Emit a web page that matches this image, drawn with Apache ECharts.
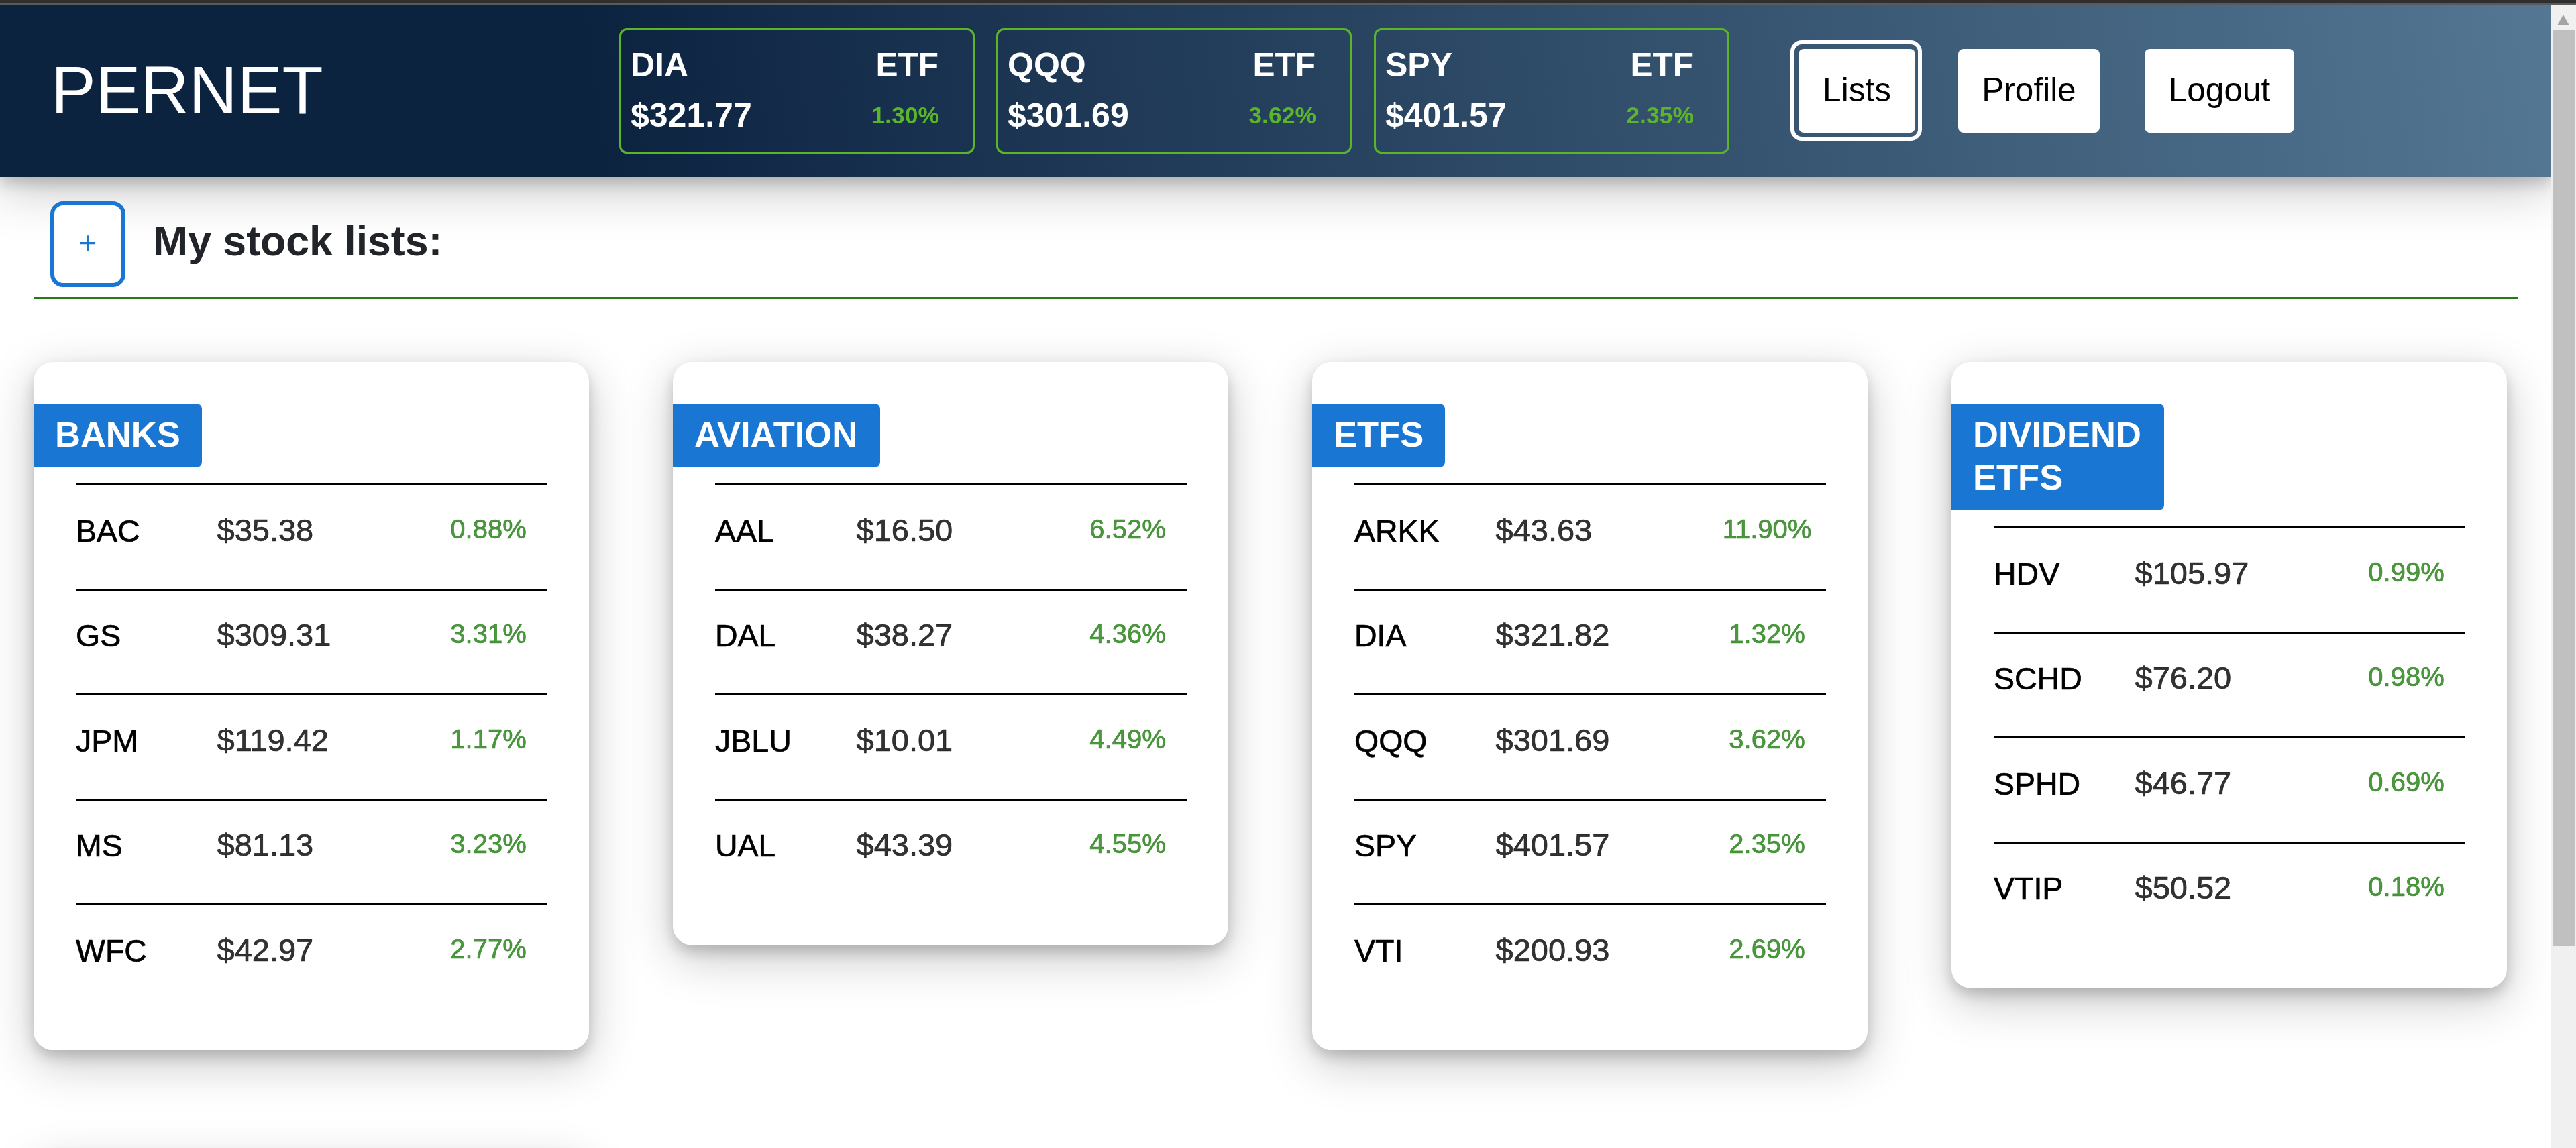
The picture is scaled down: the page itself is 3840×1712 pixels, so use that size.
<!DOCTYPE html>
<html>
<head>
<meta charset="utf-8">
<title>PERNET</title>
<style>
  html, body { margin: 0; padding: 0; background: #fff; overflow: hidden; }
  #main { width: 3840px; height: 1712px; }
</style>
<script src="https://cdn.jsdelivr.net/npm/echarts@6/dist/echarts.min.js"></script>
</head>
<body>
<div id="main"></div>
<script>
// header quotes
var quoteTickers = ['DIA', 'QQQ', 'SPY'];
var quoteKinds = ['ETF', 'ETF', 'ETF'];
var quotePrices = [321.77, 301.69, 401.57];
var quoteChanges = [1.30, 3.62, 2.35];

var navButtons = ['Lists', 'Profile', 'Logout'];

// stock lists
var listNames = ['BANKS', 'AVIATION', 'ETFS', 'DIVIDEND\nETFS'];

var banksTickers = ['BAC', 'GS', 'JPM', 'MS', 'WFC'];
var banksPrices = [35.38, 309.31, 119.42, 81.13, 42.97];
var banksChanges = [0.88, 3.31, 1.17, 3.23, 2.77];

var aviationTickers = ['AAL', 'DAL', 'JBLU', 'UAL'];
var aviationPrices = [16.50, 38.27, 10.01, 43.39];
var aviationChanges = [6.52, 4.36, 4.49, 4.55];

var etfsTickers = ['ARKK', 'DIA', 'QQQ', 'SPY', 'VTI'];
var etfsPrices = [43.63, 321.82, 301.69, 401.57, 200.93];
var etfsChanges = [11.90, 1.32, 3.62, 2.35, 2.69];

var dividendTickers = ['HDV', 'SCHD', 'SPHD', 'VTIP'];
var dividendPrices = [105.97, 76.20, 46.77, 50.52];
var dividendChanges = [0.99, 0.98, 0.69, 0.18];

var listTickers = [banksTickers, aviationTickers, etfsTickers, dividendTickers];
var listPrices = [banksPrices, aviationPrices, etfsPrices, dividendPrices];
var listChanges = [banksChanges, aviationChanges, etfsChanges, dividendChanges];

var FONT = '"Liberation Sans", Arial, sans-serif';
var BLUE = '#1976d2';
var GREEN = '#1f7d10';
var QUOTE_GREEN = '#5ab52a';

var myChart = echarts.init(document.getElementById('main'), null, { renderer: 'canvas', devicePixelRatio: 1 });

function label(x, y, text, size, color, weight, align, z) {
    return {
        type: 'text',
        x: x,
        y: y + 4,
        z: z || 20,
        silent: true,
        style: {
            text: text,
            fill: color,
            font: (weight || 'normal') + ' ' + size + 'px ' + FONT,
            align: align || 'left',
            verticalAlign: 'middle'
        }
    };
}

function box(x, y, w, h, r, style, z) {
    return {
        type: 'rect',
        z: z || 10,
        silent: true,
        shape: { x: x, y: y, width: w, height: h, r: r },
        style: style
    };
}

// the two layers of the page's box shadow
function shadowed(x, y, w, h, r, z) {
    return [
        box(x, y, w, h, r, { fill: '#fff', shadowBlur: 70, shadowOffsetY: 20, shadowColor: 'rgba(0,0,0,0.22)' }, z),
        box(x, y, w, h, r, { fill: '#fff', shadowBlur: 20, shadowOffsetY: 10, shadowColor: 'rgba(0,0,0,0.18)' }, z)
    ];
}

var graphics = [];

// browser strip, nav bar with its shadow
graphics.push(box(0, 0, 3840, 4, 0, { fill: '#2f2f2f' }, 31));
graphics.push(box(0, 4, 3840, 3, 0, { fill: '#5a5a5a' }, 31));
graphics = graphics.concat(shadowed(0, 7, 3803, 257, 0, 8));
graphics.push(box(0, 7, 3803, 257, 0, {
    fill: new echarts.graphic.LinearGradient(900, 300, 3800, -80, [
        { offset: 0, color: '#0c2340' },
        { offset: 1, color: '#547793' }
    ], true)
}, 9));

graphics.push(label(76, 137, 'PERNET', 100, '#fff'));

var quoteLeft = [923, 1485, 2048];
var quoteWidth = 530;
quoteTickers.forEach(function (ticker, i) {
    var x = quoteLeft[i];
    graphics.push(box(x + 1.5, 43.5, quoteWidth - 3, 184, 10, { fill: 'none', stroke: QUOTE_GREEN, lineWidth: 3 }));
    graphics.push(label(x + 17, 96.5, ticker, 50, '#fff', 'bold'));
    graphics.push(label(x + 476, 96.5, quoteKinds[i], 49.5, '#fff', 'bold', 'right'));
    graphics.push(label(x + 17, 171, '$' + quotePrices[i].toFixed(2), 50, '#fff', 'bold'));
    graphics.push(label(x + 477, 170, quoteChanges[i].toFixed(2) + '%', 35.5, QUOTE_GREEN, 'bold', 'right'));
});

var buttonLeft = [2681, 2919, 3197];
var buttonWidth = [174, 211, 223];
navButtons.forEach(function (name, i) {
    graphics.push(box(buttonLeft[i], 73, buttonWidth[i], 125, 8, { fill: '#fff' }));
    graphics.push(label(buttonLeft[i] + buttonWidth[i] / 2, 133, name, 49.5, '#000', 'normal', 'center'));
});
graphics.push(box(2672, 63, 190, 144, 14, { fill: 'none', stroke: '#fff', lineWidth: 6 }));

// heading
graphics.push(box(78, 303, 106, 122, 16, { fill: '#fff', stroke: BLUE, lineWidth: 6 }));
graphics.push(label(131, 361, '+', 46, BLUE, 'normal', 'center'));
graphics.push(label(228, 360, 'My stock lists:', 62.6, '#212529', 'bold'));
graphics.push(box(50, 443, 3703, 3, 0, { fill: '#267b14' }));

// scrollbar
graphics.push(box(3803, 7, 37, 1705, 0, { fill: '#f0f0f0' }, 30));
graphics.push(box(3805, 44, 33, 1367, 0, { fill: '#c0c0c0' }, 30));
graphics.push({
    type: 'polygon', z: 31, silent: true,
    shape: { points: [[3821, 22], [3830, 38], [3812, 38]] },
    style: { fill: '#a3a3a3' }
});

var cardLeft = [50, 1003, 1956, 2909];
var cardWidth = 828;
var rowHeight = 156.5;
var grids = [], xAxes = [], yAxes = [], series = [];

// next row of cards, only its shadow shows at the bottom edge
graphics = graphics.concat(shadowed(cardLeft[0], 1720, cardWidth, 400, 29, 2));

listNames.forEach(function (name, i) {
    var x = cardLeft[i];
    var lines = name.split('\n').length;
    var top = 722.6 + (lines - 1) * 64;
    var rows = listTickers[i].length;
    var cardHeight = top + rows * rowHeight + 61 - 540;

    graphics = graphics.concat(shadowed(x, 540, cardWidth, cardHeight, 29, 2));
    var badgeHeight = lines === 1 ? 95 : 159;
    var badgeWidth = [251, 309, 198, 317][i];
    graphics.push(box(x, 602, badgeWidth, badgeHeight, [0, 8, 8, 0], { fill: BLUE }, 4));
    name.split('\n').forEach(function (part, k) {
        graphics.push(label(x + 32, 647.5 + k * 64, part, 52.5, '#fff', 'bold'));
    });

    grids.push({ left: x + 63, top: top, width: 703, height: rows * rowHeight, containLabel: false });
    xAxes.push({ gridIndex: i, type: 'value', min: 0, max: 703, show: false });
    yAxes.push({
        gridIndex: i,
        type: 'category',
        inverse: true,
        data: listTickers[i],
        z: 5,
        axisLine: { show: false },
        axisTick: { show: false },
        splitLine: { show: true, showMaxLine: false, lineStyle: { color: '#000', width: 3 } },
        axisLabel: {
            inside: true,
            margin: 0,
            align: 'left',
            verticalAlign: 'bottom',
            lineHeight: 12,
            color: '#000',
            fontFamily: FONT,
            fontSize: 46.5,
            textBorderColor: '#000',
            textBorderWidth: 0.7
        }
    });
    series.push({
        type: 'scatter',
        xAxisIndex: i,
        yAxisIndex: i,
        symbolSize: 1,
        silent: true,
        itemStyle: { color: 'transparent' },
        data: listPrices[i].map(function (v, k) { return [210, k, v]; }),
        label: {
            show: true,
            position: 'right',
            distance: 0,
            offset: [0, -7],
            color: '#000',
            fontFamily: FONT,
            fontSize: 47,
            textBorderColor: '#000',
            textBorderWidth: 0.7,
            formatter: function (p) { return '$' + p.value[2].toFixed(2); }
        }
    });
    series.push({
        type: 'scatter',
        xAxisIndex: i,
        yAxisIndex: i,
        symbolSize: 1,
        silent: true,
        itemStyle: { color: 'transparent' },
        data: listChanges[i].map(function (v, k) { return [615, k, v]; }),
        label: {
            show: true,
            position: 'inside',
            offset: [0, -9],
            color: GREEN,
            fontFamily: FONT,
            fontSize: 40,
            textBorderColor: GREEN,
            textBorderWidth: 0.7,
            formatter: function (p) { return p.value[2].toFixed(2) + '%'; }
        }
    });
});

myChart.setOption({
    animation: false,
    backgroundColor: '#fff',
    textStyle: { fontFamily: FONT },
    graphic: { elements: graphics },
    grid: grids,
    xAxis: xAxes,
    yAxis: yAxes,
    series: series
});
</script>
</body>
</html>
